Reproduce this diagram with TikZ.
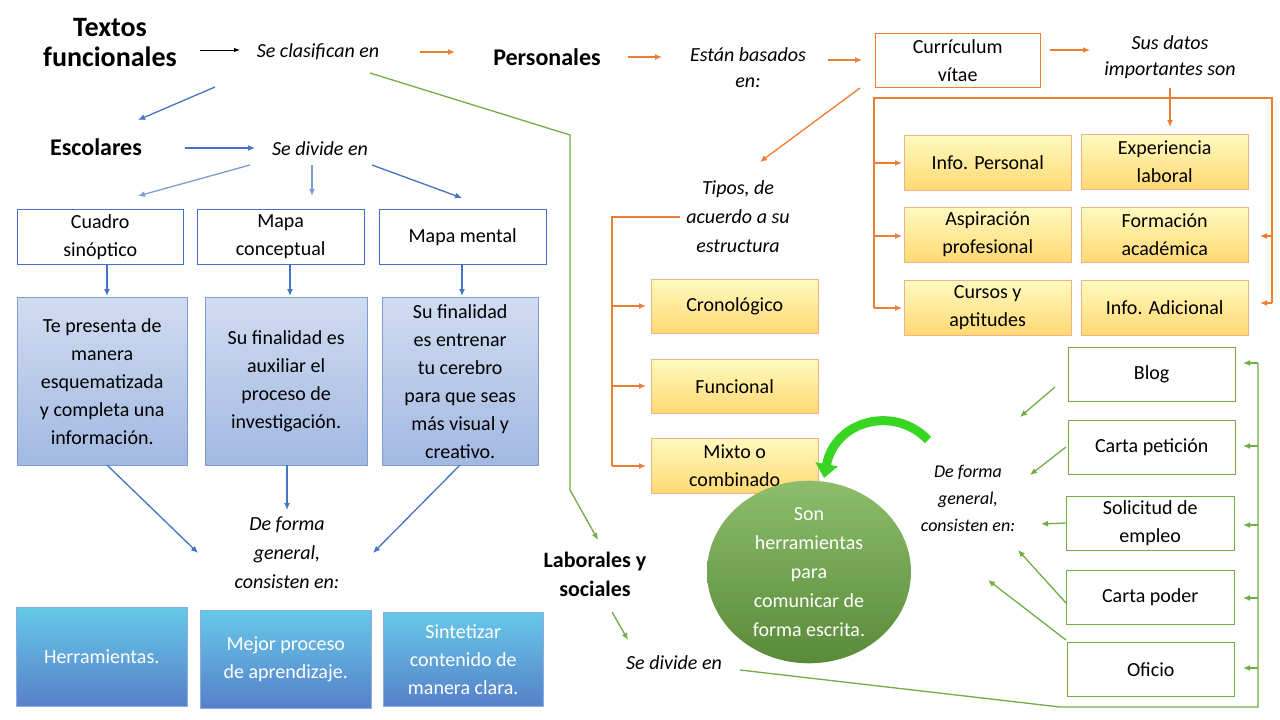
\documentclass[tikz,border=0pt]{standalone}
\usepackage{fontspec}
\setmainfont{Carlito}
\usetikzlibrary{arrows.meta,shapes.geometric}
\definecolor{org}{HTML}{ED7D31}
\definecolor{blu}{HTML}{4472C4}
\definecolor{grn}{HTML}{70AD47}
\definecolor{yb}{HTML}{F4B183}
\begin{document}
\begin{tikzpicture}[x=1pt,y=-1pt,
 lbl/.style={font=\fontsize{20}{26}\selectfont\itshape,align=center},
 ttl/.style={font=\fontsize{24}{27}\selectfont\bfseries,align=center},
 txt/.style={font=\fontsize{20}{28}\selectfont,align=center},
 obox/.style={txt,draw=yb,top color=orange!15!yellow!25,bottom color=orange!55!yellow!55,anchor=north west,inner sep=0pt},
 wbox/.style={txt,draw=#1,fill=white,anchor=north west,inner sep=0pt},
 lbox/.style={txt,draw=blu!70,top color=blu!25,bottom color=blu!50,anchor=north west,inner sep=0pt},
 dbox/.style={txt,text=white,draw=blu!60,top color=blu!55!cyan!70,bottom color=blu!90,anchor=north west,inner sep=0pt},
 oa/.style={org,line width=1.3pt,-{Latex[length=7pt,width=6pt]}},
 ba/.style={blu,line width=1.3pt,-{Latex[length=7pt,width=6pt]}},
 ga/.style={grn,line width=1.3pt,-{Latex[length=7pt,width=6pt]}},
 ol/.style={org,line width=1.3pt},
 gl/.style={grn,line width=1.3pt}]
\useasboundingbox (0,0) rectangle (1280,720);
% top
\node[font=\fontsize{28}{30}\selectfont\bfseries,align=center] (tf) at (110,43) {Textos\\funcionales};
\node[lbl] (sc) at (318,52) {Se clasifican en};
\draw[black,line width=1pt,-{Latex[length=6pt]}] (200,50) -- (240,50);
\draw[oa] (420,52) -- (455,52);
\node[ttl] (per) at (547,57) {Personales};
\draw[oa] (628,57) -- (662,57);
\node[lbl] (eb) at (748,68) {Están basados\\en:};
\draw[oa] (828,60) -- (862,60);
\node[wbox=org,minimum width=165pt,minimum height=54pt] (cv) at (875,33) {Currículum\\vítae};
\draw[oa] (1050,50) -- (1090,50);
\node[lbl] (sd) at (1170,57) {Sus datos\\importantes son};
\draw[oa] (1170,88) -- (1170,127);
\draw[ol] (874,308) -- (874,98) -- (1272,98) -- (1272,303);
\foreach \y in {163,236,308} \draw[oa] (874,\y) -- (902,\y);
\foreach \y in {236,303} \draw[oa] (1272,\y) -- (1260,\y);
\node[obox,minimum width=167pt,minimum height=55pt] (ip) at (904,135) {Info. Personal};
\node[obox,minimum width=167pt,minimum height=55pt] (el) at (1081,134) {Experiencia\\laboral};
\node[obox,minimum width=167pt,minimum height=55pt] (ap) at (904,207) {Aspiración\\profesional};
\node[obox,minimum width=167pt,minimum height=55pt] (fa) at (1081,207) {Formación\\académica};
\node[obox,minimum width=167pt,minimum height=55pt] (ca) at (904,280) {Cursos y\\aptitudes};
\node[obox,minimum width=167pt,minimum height=55pt] (ia) at (1081,280) {Info. Adicional};
\draw[oa] (860,88) -- (760,162);
\node[lbl,font=\fontsize{20}{29}\selectfont\itshape] (tp) at (738,217) {Tipos, de\\acuerdo a su\\estructura};
\draw[ol] (680,217) -- (612,217) -- (612,466);
\foreach \y in {306,386,466} \draw[oa] (612,\y) -- (646,\y);
\node[obox,minimum width=167pt,minimum height=54pt] (cr) at (651,279) {Cronológico};
\node[obox,minimum width=167pt,minimum height=54pt] (fu) at (651,359) {Funcional};
\node[obox,minimum width=167pt,minimum height=55pt] (mx) at (651,438) {Mixto o\\combinado};
% green branch
\draw[gl] (370,73) -- (570,135) -- (570,490);
\draw[ga] (570,490) -- (598,540);
\node[ttl,font=\fontsize{22}{29}\selectfont\bfseries] (ls) at (595,574) {Laborales y\\sociales};
\draw[ga] (612,612) -- (628,640);
\node[lbl] (sd2) at (674,663) {Se divide en};
\draw[gl] (740,670) -- (1060,707) -- (1258,707) -- (1258,363);
\foreach \y in {363,446,525,598,668} \draw[ga] (1258,\y) -- (1243,\y);
\node[wbox=grn,minimum width=167pt,minimum height=54pt] (bl) at (1068,347) {Blog};
\node[wbox=grn,minimum width=167pt,minimum height=54pt] (cp) at (1068,420) {Carta petición};
\node[wbox=grn,minimum width=168pt,minimum height=54pt] (so) at (1066,496) {Solicitud de\\empleo};
\node[wbox=grn,minimum width=168pt,minimum height=54pt] (cpo) at (1066,570) {Carta poder};
\node[wbox=grn,minimum width=167pt,minimum height=54pt] (of) at (1067,642) {Oficio};
\draw[ga] (1055,387) -- (1020,417);
\draw[ga] (1066,447) -- (1030,475);
\draw[ga] (1066,523) -- (1041,524);
\draw[ga] (1066,603) -- (1018,550);
\draw[ga] (1066,640) -- (988,580);
\node[lbl,font=\fontsize{18}{27}\selectfont\itshape] (df2) at (968,498) {De forma\\general,\\consisten en:};
\node[ellipse,minimum width=204pt,minimum height=156pt,inner sep=0pt,top color=grn!80!white,bottom color=grn!80!black,draw=none,txt,text=white,font=\fontsize{20}{29}\selectfont] (sh) at (809,572) {Son\\herramientas\\para\\comunicar de\\forma escrita.};
\draw[green!50!grn,line width=9pt,-{Triangle[length=14pt,width=22pt]}] (928,440) .. controls (895,405) and (835,420) .. (824,478);
% left side
\draw[ba] (215,87) -- (138,120);
\node[ttl] (es) at (96,147) {Escolares};
\draw[ba] (185,148) -- (255,148);
\node[lbl] (sd1) at (320,149) {Se divide en};
\draw[ba,blu!70] (250,165) -- (138,196);
\draw[ba,blu!70] (312,165) -- (312,196);
\draw[ba] (372,165) -- (462,198);
\node[wbox=blu,minimum width=166pt,minimum height=55pt] (cs) at (17,209) {Cuadro\\sinóptico};
\node[wbox=blu,minimum width=167pt,minimum height=55pt] (mc) at (197,209) {Mapa\\conceptual};
\node[wbox=blu,minimum width=167pt,minimum height=55pt] (mm) at (379,209) {Mapa mental};
\foreach \x in {107,290,462} \draw[ba] (\x,264) -- (\x,296);
\node[lbl,font=\fontsize{20}{28.5}\selectfont,lbox,minimum width=170pt,minimum height=168pt] (b1) at (17,297) {Te presenta de\\manera\\esquematizada\\y completa una\\información.};
\node[lbl,font=\fontsize{20}{28.5}\selectfont,lbox,minimum width=162pt,minimum height=168pt] (b2) at (205,297) {Su finalidad es\\auxiliar el\\proceso de\\investigación.};
\node[lbl,font=\fontsize{20}{28.5}\selectfont,lbox,minimum width=156pt,minimum height=168pt] (b3) at (382,297) {Su finalidad\\es entrenar\\tu cerebro\\para que seas\\más visual y\\creativo.};
\draw[ba] (107,465) -- (198,553);
\draw[ba] (287,465) -- (287,510);
\draw[ba] (460,465) -- (373,553);
\node[lbl,font=\fontsize{20}{29}\selectfont\itshape] (df1) at (287,553) {De forma\\general,\\consisten en:};
\node[dbox,minimum width=171pt,minimum height=99pt] (h1) at (16,607) {Herramientas.};
\node[dbox,minimum width=171pt,minimum height=98pt] (h2) at (200,610) {Mejor proceso\\de aprendizaje.};
\node[dbox,minimum width=160pt,minimum height=94pt] (h3) at (383,612) {Sintetizar\\contenido de\\manera clara.};
\end{tikzpicture}
\end{document}
